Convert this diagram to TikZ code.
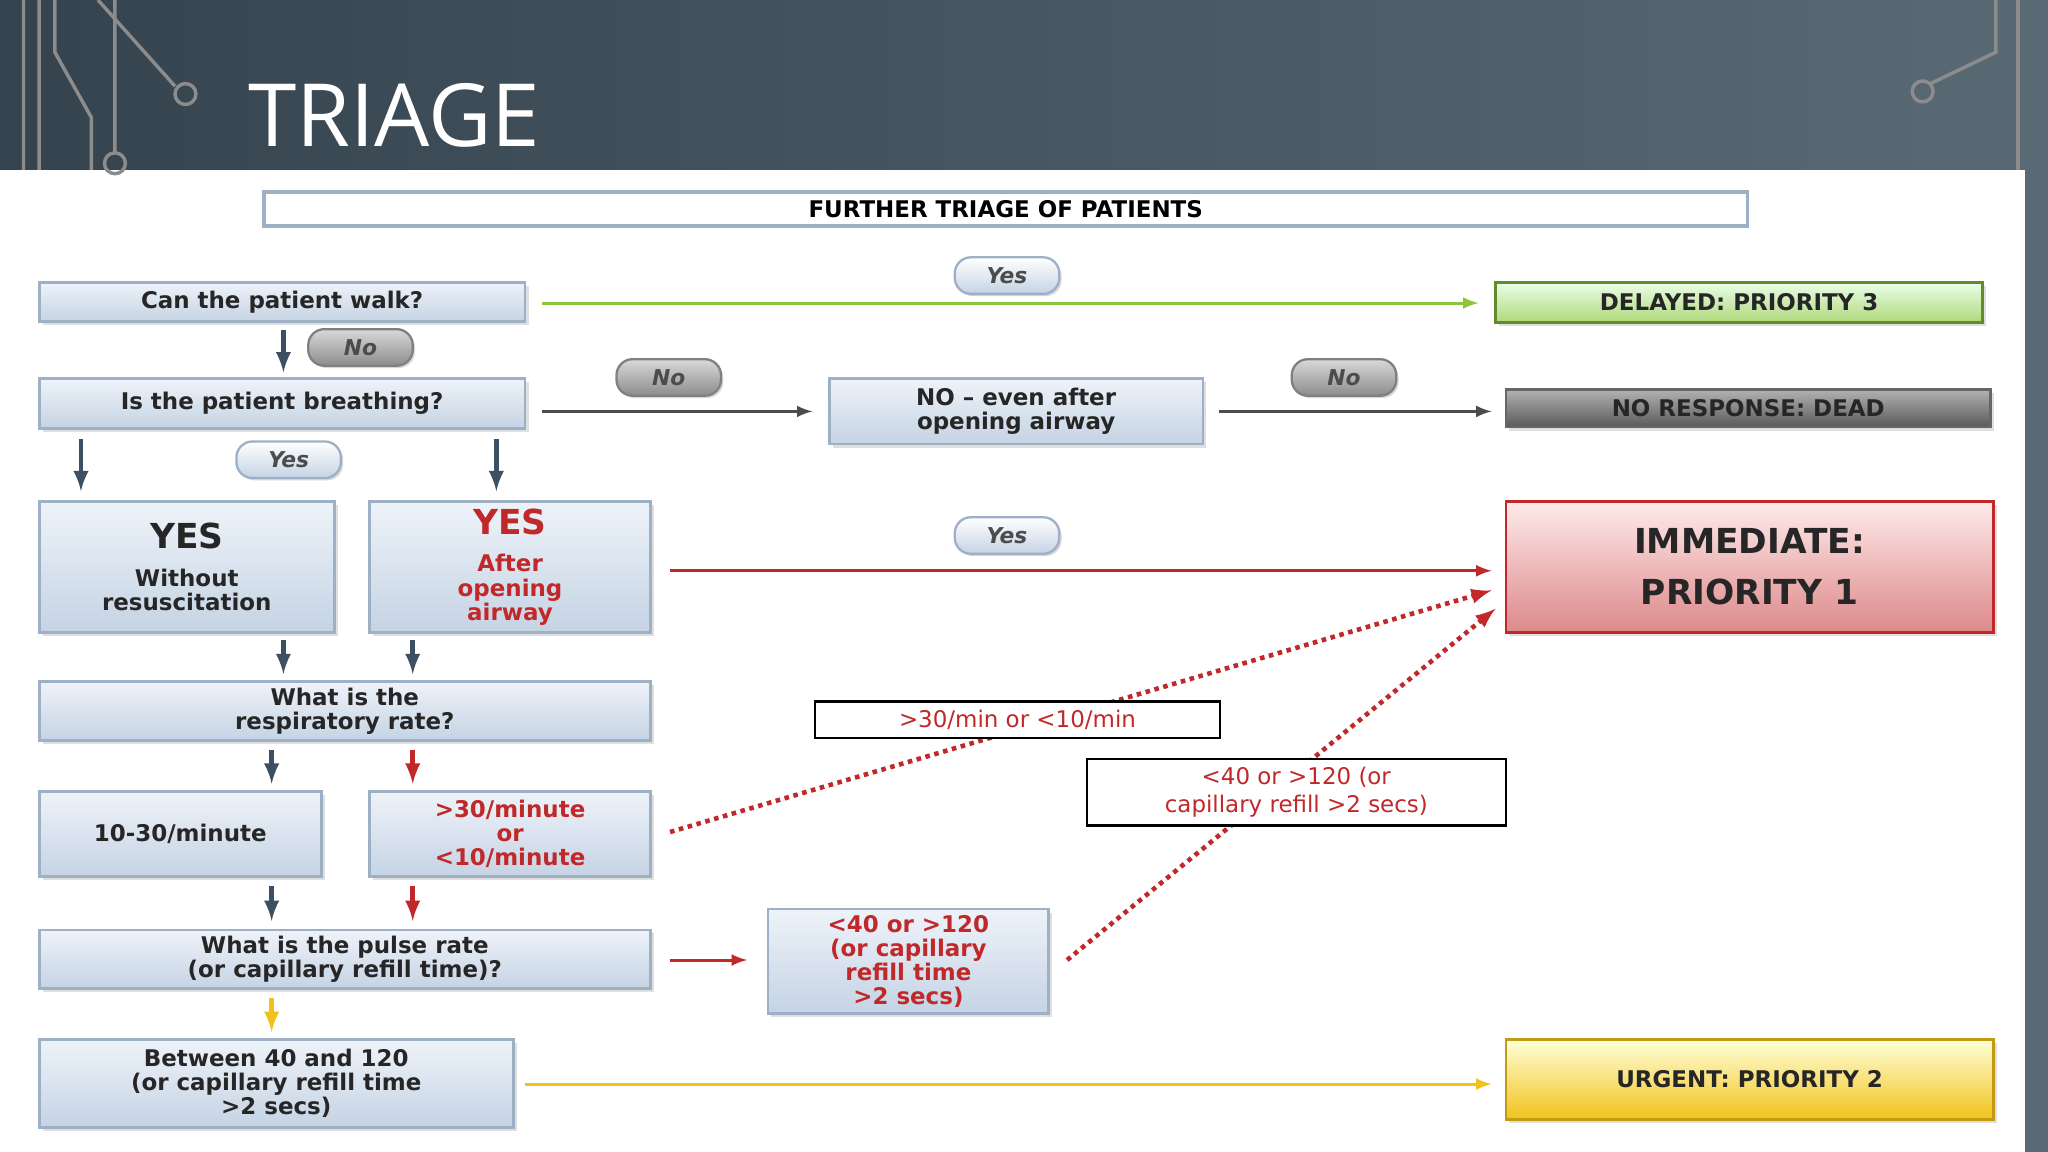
\documentclass[tikz,border=0pt]{standalone}
\usepackage{fontspec}
\setmainfont{DejaVu Sans}
\newfontfamily\ttl{Open Sans}
\usetikzlibrary{shadows}
\definecolor{hdA}{HTML}{34434E}
\definecolor{hdB}{HTML}{5A6A74}
\definecolor{bxb}{HTML}{9DB0C6}
\definecolor{bxt}{HTML}{EEF3F9}
\definecolor{bxbot}{HTML}{C5D3E4}
\definecolor{rd}{HTML}{C0282A}
\definecolor{dk}{HTML}{3D4F63}
\definecolor{gr}{HTML}{8CC63F}
\definecolor{yl}{HTML}{F2C21B}
\newcommand\bx[7]{\node[#6, minimum width={(#4-#2)*0.02cm}, minimum height={(#5-#3)*0.02cm}] (#1) at ({(#2+#4)/2},{(#3+#5)/2}) {#7};}
\tikzset{
 box/.style={draw=bxb, line width=1.2pt, top color=bxt, bottom color=bxbot, inner sep=0pt, align=center,
   font=\fontsize{10}{10.5}\selectfont\bfseries, text=black!85, drop shadow={shadow xshift=1.5pt,shadow yshift=-1.5pt,opacity=0.25}},
 pill/.style={draw=bxb, line width=1pt, rounded corners=7pt, minimum width=1.6cm, minimum height=0.56cm, inner sep=0pt,
   font=\fontsize{9.5}{11}\selectfont\bfseries\itshape, text=black!70, drop shadow={shadow xshift=1pt,shadow yshift=-1pt,opacity=0.3}},
 ypill/.style={pill, top color=white, bottom color=bxbot},
 npill/.style={pill, draw=black!50, top color=black!15, bottom color=black!45},
 ar/.style={-latex, line width=1.3pt},
 dot/.style={-latex, line width=2pt, rd, dotted},
 lbl/.style={draw=black, line width=1pt, fill=white, inner sep=0pt, align=center, font=\fontsize{10}{12}\selectfont, text=rd},
 deco/.style={draw=black!45, line width=1.5pt}
}
\begin{document}
\begin{tikzpicture}[x=0.02cm,y=-0.02cm]
\useasboundingbox (0,0) rectangle (1568,882);
\shade[left color=hdA, right color=hdB] (0,0) rectangle (1568,882);
\fill[white] (0,130) rectangle (1550,882);
% decorations
\draw[deco] (18,0)--(18,130) (30,0)--(30,130) (42,0)--(42,40)--(70,90)--(70,130) (88,0)--(88,117);
\draw[deco] (75,0)--(134,66); \draw[deco] (142,72) circle (8); \draw[deco] (88,125) circle (8);
\draw[deco] (1528,0)--(1528,40)--(1478,64); \draw[deco] (1472,70) circle (8);
\draw[deco] (1545,0)--(1545,130);
\node[anchor=west, text=white, font=\ttl\fontsize{38}{42}\selectfont] (title) at (184,88) {TRIAGE};
% boxes
\bx{head}{202}{147}{1338}{173}{draw=bxb,line width=1.5pt,fill=white,font=\fontsize{10}{12}\selectfont\bfseries,inner sep=0pt}{FURTHER TRIAGE OF PATIENTS}
\bx{walk}{30}{216}{402}{246}{box}{Can the patient walk?}
\bx{breath}{30}{290}{402}{328}{box}{Is the patient breathing?}
\bx{yesw}{30}{384}{256}{484}{box}{{\fontsize{15}{16}\selectfont YES}\\[6pt]Without\\resuscitation}
\bx{yesa}{283}{384}{498}{484}{box,text=rd}{{\fontsize{15}{16}\selectfont YES}\\[6pt]After\\opening\\airway}
\bx{resp}{30}{522}{498}{567}{box}{What is the\\respiratory rate?}
\bx{norm}{30}{606}{246}{671}{box}{10-30/minute}
\bx{abn}{283}{606}{498}{671}{box,text=rd}{>30/minute\\or\\<10/minute}
\bx{pulse}{30}{712}{498}{757}{box}{What is the pulse rate\\(or capillary refill time)?}
\bx{pabn}{588}{696}{803}{776}{box,text=rd}{<40 or >120\\(or capillary\\refill time\\>2 secs)}
\bx{betw}{30}{796}{393}{863}{box}{Between 40 and 120\\(or capillary refill time\\>2 secs)}
\bx{noair}{635}{290}{921}{340}{box}{NO -- even after\\opening airway}
\bx{delay}{1145}{216}{1518}{247}{box,draw=gr!70!black,top color=green!8!white,bottom color=gr!70!white}{DELAYED: PRIORITY 3}
\bx{dead}{1153}{298}{1524}{327}{box,draw=black!60,top color=black!30,bottom color=black!65}{NO RESPONSE: DEAD}
\bx{imm}{1153}{384}{1526}{484}{box,draw=rd,top color=red!8!white,bottom color=rd!55!white,font=\fontsize{15}{22}\selectfont\bfseries}{IMMEDIATE:\\PRIORITY 1}
\bx{urg}{1153}{796}{1526}{857}{box,draw=yl!80!black,top color=yellow!15!white,bottom color=yl}{URGENT: PRIORITY 2}
% pills
\node[ypill] (p1) at (771,211) {Yes};
\node[npill] (p2) at (276,266) {No};
\node[npill] (p3) at (512,289) {No};
\node[npill] (p4) at (1029,289) {No};
\node[ypill] (p5) at (221,352) {Yes};
\node[ypill] (p6) at (771,410) {Yes};
% coordinates
\coordinate (a1) at (415,232); \coordinate (a2) at (1132,232);
\coordinate (b1) at (415,315); \coordinate (b2) at (622,315);
\coordinate (c1) at (933,315); \coordinate (c2) at (1142,315);
\coordinate (d1) at (513,437); \coordinate (d2) at (1142,437);
\coordinate (e1) at (402,830); \coordinate (e2) at (1142,830);
\coordinate (f1) at (513,735); \coordinate (f2) at (572,735);
\coordinate (g1) at (513,637); \coordinate (g2) at (1142,452);
\coordinate (h1) at (817,735); \coordinate (h2) at (1145,466);
\draw[ar,gr] (a1)--(a2);
\draw[ar,black!70] (b1)--(b2);
\draw[ar,black!70] (c1)--(c2);
\draw[ar,rd] (d1)--(d2);
\draw[ar,yl] (e1)--(e2);
\draw[ar,rd] (f1)--(f2);
\draw[dot] (g1)--(g2);
\draw[dot] (h1)--(h2);
\bx{l1}{624}{537}{934}{565}{lbl}{>30/min or <10/min}
\bx{l2}{832}{581}{1153}{632}{lbl}{<40 or >120 (or\\capillary refill >2 secs)}
% vertical arrows
\foreach \x/\ya/\yb/\c in {217/253/285/dk, 62/336/376/dk, 380/336/376/dk, 217/490/516/dk, 316/490/516/dk, 208/574/600/dk, 316/574/600/rd, 208/678/705/dk, 316/678/705/rd, 208/764/790/yl}{
 \coordinate (v1) at (\x,\ya); \coordinate (v2) at (\x,\yb);
 \draw[ar,\c,line width=2pt] (v1)--(v2);}
\end{tikzpicture}
\end{document}
